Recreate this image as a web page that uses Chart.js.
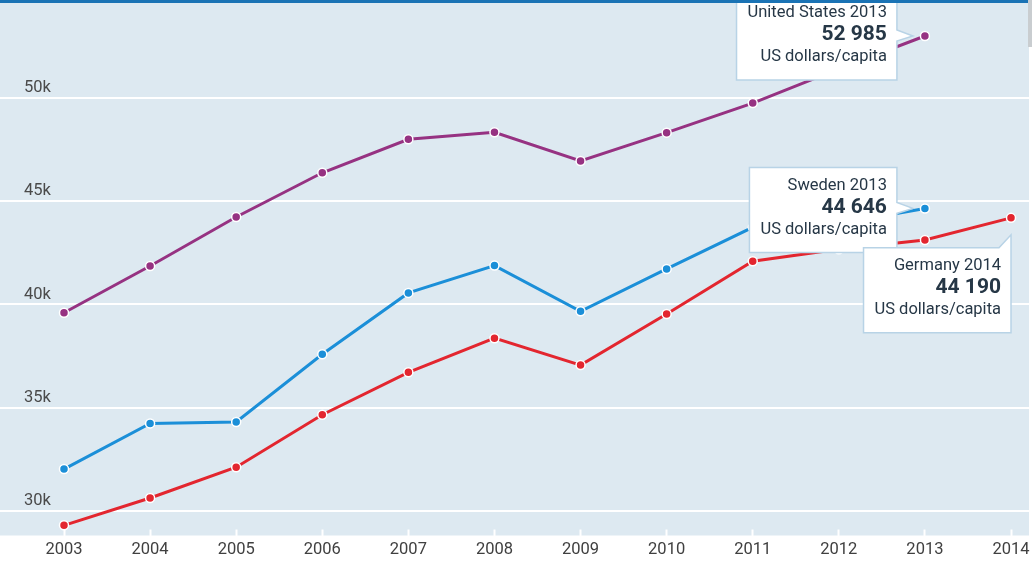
<!DOCTYPE html>
<html>
<head>
<meta charset="utf-8">
<script src="https://cdn.jsdelivr.net/npm/chart.js@4"></script>
<style>
  html, body { margin: 0; padding: 0; background: #fff; overflow: hidden; }
  #wrap { position: relative; width: 1032px; height: 566px; }
  #topbar { position: absolute; left: 0; top: 0; width: 1032px; height: 3px; background: #1a73b5; }
  #scroll { position: absolute; right: 0; top: 0; width: 4px; height: 47px; background: #c9cdd0; }
</style>
</head>
<body>
<div id="wrap">
  <canvas id="gdpChart" width="1032" height="566"></canvas>
  <div id="topbar"></div>
  <div id="scroll"></div>
</div>
<script>
  const years = [2003, 2004, 2005, 2006, 2007, 2008, 2009, 2010, 2011, 2012, 2013, 2014];
  const usa = [39600, 41860, 44230, 46370, 47990, 48330, 46940, 48310, 49740, 51390, 52985, null];
  const sweden = [32040, 34250, 34320, 37590, 40560, 41880, 39670, 41720, 43730, 43900, 44646, null];
  const germany = [29320, 30640, 32130, 34670, 36720, 38370, 37070, 39540, 42090, 42670, 43120, 44190];
  const yTicks = [30000, 35000, 40000, 45000, 50000];
  const unitLabel = 'US dollars/capita';

  // callouts shown like pinned tooltips
  const callouts = [
    { dataset: 0, year: 2013, title: 'United States 2013', value: '52 985', side: 'left' },
    { dataset: 1, year: 2013, title: 'Sweden 2013', value: '44 646', side: 'left' },
    { dataset: 2, year: 2014, title: 'Germany 2014', value: '44 190', side: 'below' }
  ];

  const FONT = 'Roboto, "Open Sans", sans-serif';

  function points(vals) {
    return years.map((yr, i) => ({ x: yr, y: vals[i] }));
  }

  function series(label, vals, color) {
    return {
      label: label,
      data: points(vals),
      borderColor: color,
      backgroundColor: color,
      borderWidth: 3,
      pointRadius: 4.5,
      pointHoverRadius: 4.5,
      pointBorderWidth: 1.5,
      pointBorderColor: '#fff',
      pointBackgroundColor: color,
      tension: 0
    };
  }

  // plot background
  const plotBg = {
    id: 'plotBg',
    beforeDraw(chart) {
      const { ctx, chartArea: a } = chart;
      ctx.save();
      ctx.fillStyle = '#dde9f1';
      ctx.fillRect(a.left, a.top, a.right - a.left, a.bottom - a.top);
      ctx.restore();
    }
  };

  // pinned callout boxes
  const calloutPlugin = {
    id: 'callouts',
    afterDraw(chart) {
      const ctx = chart.ctx;
      callouts.forEach(c => {
        const idx = years.indexOf(c.year);
        const pt = chart.getDatasetMeta(c.dataset).data[idx];
        const px = pt.x, py = pt.y;
        ctx.save();
        ctx.font = '16.5px ' + FONT;
        const w1 = ctx.measureText(c.title).width;
        const w3 = ctx.measureText(unitLabel).width;
        ctx.font = 'bold 21px ' + FONT;
        const w2 = ctx.measureText(c.value).width;
        const w = Math.max(w1, w2, w3) + 21;
        const h = 85;
        let right, top;
        if (c.side === 'left') {
          right = px - 28; top = py - 41;
        } else {
          right = px; top = py + 30;
        }
        const left = right - w;
        ctx.beginPath();
        ctx.moveTo(left, top);
        if (c.side === 'left') {
          ctx.lineTo(right, top);
          ctx.lineTo(right, py - 6);
          ctx.lineTo(right + 16, py);
          ctx.lineTo(right, py + 5);
        } else {
          ctx.lineTo(right - 12, top);
          ctx.lineTo(right, top - 13);
        }
        ctx.lineTo(right, top + h);
        ctx.lineTo(left, top + h);
        ctx.closePath();
        ctx.fillStyle = '#fff';
        ctx.fill();
        ctx.lineWidth = 1.5;
        ctx.strokeStyle = '#b8d3e6';
        ctx.stroke();

        ctx.fillStyle = '#263746';
        ctx.textAlign = 'right';
        ctx.textBaseline = 'middle';
        ctx.font = '16.5px ' + FONT;
        ctx.fillText(c.title, right - 10, top + 18);
        ctx.font = 'bold 21px ' + FONT;
        ctx.fillText(c.value, right - 10, top + 40);
        ctx.font = '16.5px ' + FONT;
        ctx.fillText(unitLabel, right - 10, top + 62);
        ctx.restore();
      });
    }
  };

  new Chart(document.getElementById('gdpChart'), {
    type: 'line',
    data: {
      datasets: [
        series('United States', usa, '#963282'),
        series('Sweden', sweden, '#1b8fd8'),
        series('Germany', germany, '#e3262f')
      ]
    },
    options: {
      responsive: false,
      animation: false,
      events: [],
      layout: { autoPadding: false, padding: { top: 0, left: 0, right: 3, bottom: 0 } },
      plugins: {
        legend: { display: false },
        tooltip: { enabled: false }
      },
      scales: {
        x: {
          type: 'linear',
          min: 2002.2566,
          max: 2014.209,
          afterBuildTicks: s => { s.ticks = years.map(v => ({ value: v })); },
          afterFit: s => { s.height = 30.5; s.paddingLeft = 0; s.paddingRight = 0; },
          border: { display: false },
          grid: { drawOnChartArea: false, tickLength: -6, tickColor: '#fff', tickWidth: 2, color: '#fff' },
          ticks: {
            padding: 10,
            color: '#404040',
            font: { family: FONT, size: 16.5 },
            maxRotation: 0,
            callback: v => String(v)
          }
        },
        y: {
          min: 28828,
          max: 54725,
          afterBuildTicks: s => { s.ticks = yTicks.map(v => ({ value: v })); },
          afterFit: s => { s.width = 0; s.paddingTop = 0; s.paddingBottom = 0; },
          border: { display: false },
          grid: { color: '#fff', lineWidth: 2, drawTicks: false },
          ticks: {
            mirror: true,
            padding: 24,
            labelOffset: -10,
            color: '#4a4a4a',
            font: { family: FONT, size: 16.5 },
            callback: v => (v / 1000) + 'k'
          }
        }
      }
    },
    plugins: [plotBg, calloutPlugin]
  });
</script>
</body>
</html>
